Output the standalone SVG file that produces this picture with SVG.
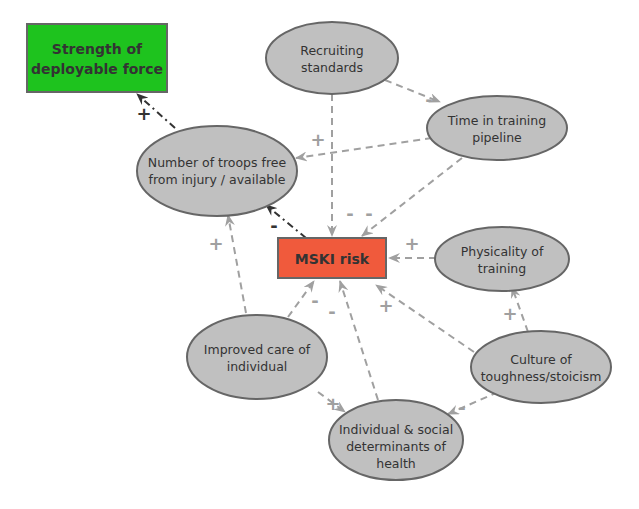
<svg xmlns="http://www.w3.org/2000/svg" width="639" height="509" viewBox="0 0 639 509">
<style>
.n{fill:#c0c0c0;stroke:#666;stroke-width:2}
.t{font-family:"DejaVu Sans",sans-serif;font-size:12.5px;fill:#333;text-anchor:middle}
.b{font-family:"DejaVu Sans",sans-serif;font-size:14px;font-weight:bold;fill:#333;text-anchor:middle}
.e{fill:none;stroke:#a0a0a0;stroke-width:2;stroke-dasharray:7,5;marker-end:url(#ag)}
.k{fill:none;stroke:#333;stroke-width:2;stroke-dasharray:7,4,2,4;marker-end:url(#ak)}
.s{font-family:"DejaVu Sans",sans-serif;font-size:18px;font-weight:bold;fill:#a0a0a0;text-anchor:middle}
.sk{font-family:"DejaVu Sans",sans-serif;font-size:18px;font-weight:bold;fill:#333;text-anchor:middle}
</style>
<defs>
<marker id="ag" viewBox="0 0 12 10" refX="11" refY="5" markerWidth="12" markerHeight="10" markerUnits="userSpaceOnUse" orient="auto"><path d="M0,0 L12,5 L0,10 L4,5 Z" fill="#a0a0a0"/></marker>
<marker id="ak" viewBox="0 0 12 10" refX="11" refY="5" markerWidth="12" markerHeight="10" markerUnits="userSpaceOnUse" orient="auto"><path d="M0,0 L12,5 L0,10 L4,5 Z" fill="#333"/></marker>
</defs>
<rect width="639" height="509" fill="#fff"/>
<g id="connectors">
<path class="e" d="M385,80 L440,102"/><text class="s" x="429" y="106">-</text>
<path class="e" d="M332,94 L332,236"/>
<path class="e" d="M432,138 L296,158"/><text class="s" x="318" y="146">+</text>
<path class="e" d="M462,158 L362,236"/><text class="s" x="350" y="220">-</text><text class="s" x="369" y="220">-</text>
<path class="e" d="M436,258 L389,258"/><text class="s" x="412" y="250">+</text>
<path class="e" d="M528,332 L512,287"/><text class="s" x="510" y="320">+</text>
<path class="e" d="M474,352 L376,285"/><text class="s" x="386" y="312">+</text>
<path class="e" d="M498,392 L448,414"/><text class="s" x="462" y="414">-</text>
<path class="e" d="M288,317 L314,281"/><text class="s" x="315" y="307">-</text>
<path class="e" d="M246,313 L228,215"/><text class="s" x="216" y="250">+</text>
<path class="e" d="M318,392 L345,412"/><text class="s" x="333" y="410">+</text>
<path class="e" d="M378,400 L340,281"/><text class="s" x="332" y="318">-</text>
<path class="k" d="M306,238 L266,205"/><text class="sk" x="274" y="232">-</text>
<path class="k" d="M175,128 L137,94"/><text class="sk" x="144" y="120">+</text>
</g>
<g id="strength"><rect x="27" y="24" width="140" height="68" fill="#1ec31e" stroke="#666" stroke-width="2"/><text class="b" x="97" y="54">Strength of</text><text class="b" x="97" y="74">deployable force</text></g>
<g id="recruiting"><ellipse class="n" cx="332" cy="58" rx="66" ry="36"/><text class="t" x="332" y="55">Recruiting</text><text class="t" x="332" y="72">standards</text></g>
<g id="time"><ellipse class="n" cx="497" cy="128" rx="70" ry="32"/><text class="t" x="497" y="125">Time in training</text><text class="t" x="497" y="142">pipeline</text></g>
<g id="troops"><ellipse class="n" cx="217" cy="171" rx="80" ry="45"/><text class="t" x="217" y="167">Number of troops free</text><text class="t" x="217" y="184">from injury / available</text></g>
<g id="mski"><rect x="278" y="238" width="108" height="40" fill="#f05a3c" stroke="#666" stroke-width="2"/><text class="b" x="332" y="264">MSKI risk</text></g>
<g id="physicality"><ellipse class="n" cx="502" cy="259" rx="67" ry="32"/><text class="t" x="502" y="256">Physicality of</text><text class="t" x="502" y="273">training</text></g>
<g id="care"><ellipse class="n" cx="257" cy="357" rx="70" ry="42"/><text class="t" x="257" y="354">Improved care of</text><text class="t" x="257" y="371">individual</text></g>
<g id="culture"><ellipse class="n" cx="541" cy="367" rx="70" ry="36"/><text class="t" x="541" y="364">Culture of</text><text class="t" x="541" y="381">toughness/stoicism</text></g>
<g id="individual"><ellipse class="n" cx="396" cy="440" rx="67" ry="40"/><text class="t" x="396" y="434">Individual &amp; social</text><text class="t" x="396" y="451">determinants of</text><text class="t" x="396" y="468">health</text></g>
</svg>
